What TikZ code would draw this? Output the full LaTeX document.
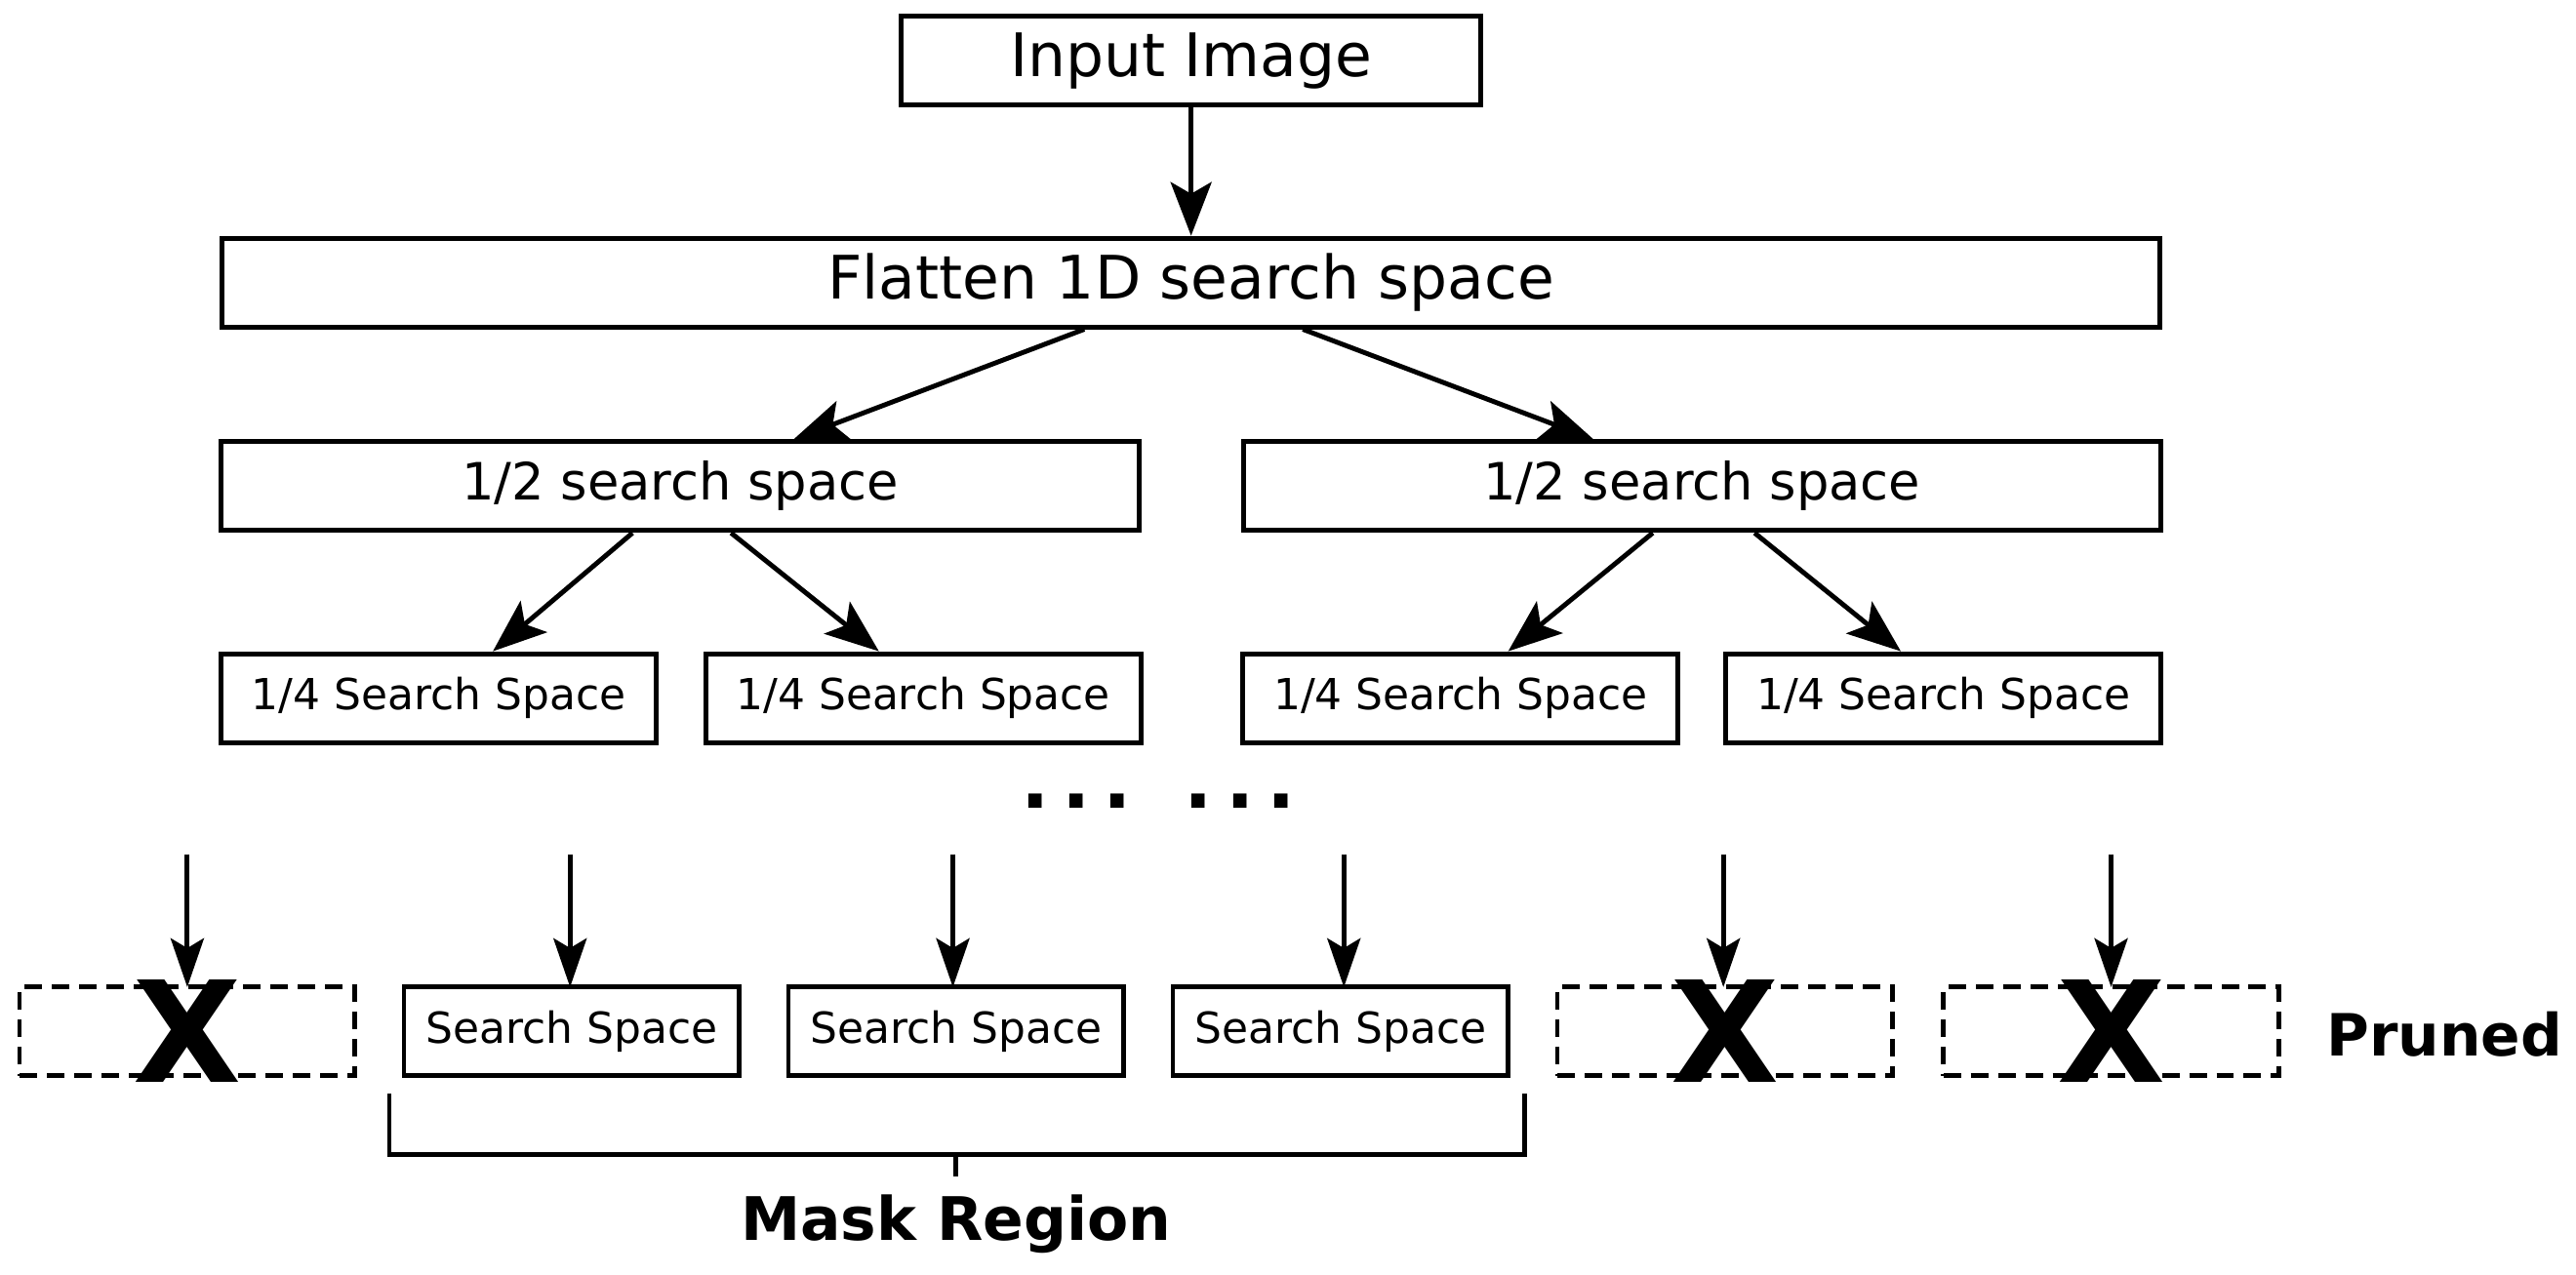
\documentclass[tikz,border=0pt]{standalone}
\usepackage{fontspec}
\setmainfont{DejaVu Sans}
\usetikzlibrary{positioning, calc, arrows.meta}
\begin{document}
\begin{tikzpicture}[x=0.01684cm, y=-0.01684cm, line width=1.4pt]
		\tikzstyle{box} = [draw, inner sep=0pt, minimum height=0.91cm]
		\tikzstyle{pruned} = [box, dashed, dash pattern=on 0.18cm off 0.1cm, minimum width=3.44cm]
		\tikzstyle{arr} = [-{Stealth[length=0.55cm, width=0.42cm, inset=0.12cm]}]
		\tikzstyle{cross} = [font=\fontsize{41}{41}\selectfont\bfseries]
		\useasboundingbox (0,0) rectangle (1568,776);
		\node[box, minimum width=5.94cm, font=\fontsize{17.5}{21}\selectfont] (inp) at (725,37) {Input Image};
		\node[box, minimum width=19.87cm, font=\fontsize{17.5}{21}\selectfont] (flat) at (725,172) {Flatten 1D search space};
		\node[box, minimum width=9.41cm, font=\fontsize{15}{18}\selectfont] (halfL) at (414,296) {1/2 search space};
		\node[box, minimum width=9.41cm, font=\fontsize{15}{18}\selectfont] (halfR) at (1036,296) {1/2 search space};
		\node[box, minimum width=4.46cm, font=\fontsize{12.5}{15}\selectfont] (q1) at (267,425) {1/4 Search Space};
		\node[box, minimum width=4.46cm, font=\fontsize{12.5}{15}\selectfont] (q2) at (562,425) {1/4 Search Space};
		\node[box, minimum width=4.46cm, font=\fontsize{12.5}{15}\selectfont] (q3) at (889,425) {1/4 Search Space};
		\node[box, minimum width=4.46cm, font=\fontsize{12.5}{15}\selectfont] (q4) at (1183,425) {1/4 Search Space};
		\draw[arr] (inp) -- (flat);
		\draw[arr] ($(flat.south)+(-65,0)$) -- ($(halfL.north)+(69,0)$);
		\draw[arr] ($(flat.south)+(68,0)$) -- ($(halfR.north)+(-66,0)$);
		\draw[arr] ($(halfL.south)+(-29,0)$) -- ($(q1.north)+(33,0)$);
		\draw[arr] ($(halfL.south)+(31,0)$) -- ($(q2.north)+(-27,0)$);
		\draw[arr] ($(halfR.south)+(-30,0)$) -- ($(q3.north)+(29,0)$);
		\draw[arr] ($(halfR.south)+(32,0)$) -- ($(q4.north)+(-26,0)$);
		\node[font=\fontsize{22}{22}\selectfont\bfseries] (dots) at (705,488) {.\,.\,.\ \ .\,.\,.};
		% bottom row
		\node[pruned] (p1) at (114,628) {};
		\node[box, minimum width=3.44cm, font=\fontsize{12.5}{15}\selectfont] (s1) at (348,628) {Search Space};
		\node[box, minimum width=3.44cm, font=\fontsize{12.5}{15}\selectfont] (s2) at (582,628) {Search Space};
		\node[box, minimum width=3.44cm, font=\fontsize{12.5}{15}\selectfont] (s3) at (816,628) {Search Space};
		\node[pruned] (p2) at (1050,628) {};
		\node[pruned] (p3) at (1285,628) {};
		\foreach \n/\x in {p1/114, s1/347, s2/580, s3/818, p2/1049, p3/1285} {
			\coordinate (t\n) at (\x,520);
			\draw[-{Stealth[length=0.5cm, width=0.34cm, inset=0.1cm]}] (t\n) -- (\x,601);
		}
		\foreach \n in {p1, p2, p3} \node[cross] (x\n) at (\n) {X};
		\node[font=\fontsize{17}{20}\selectfont\bfseries] (prn) at (1488,630) {Pruned};
		% mask bracket
		\coordinate (bl) at (237,666); \coordinate (br) at (928,666);
		\draw (bl) -- (237,703) -- (928,703) -- (br);
		\draw (582,703) -- (582,716);
		\node[font=\fontsize{17.5}{21}\selectfont\bfseries] (mask) at (582,745) {Mask Region};
\end{tikzpicture}
\end{document}
